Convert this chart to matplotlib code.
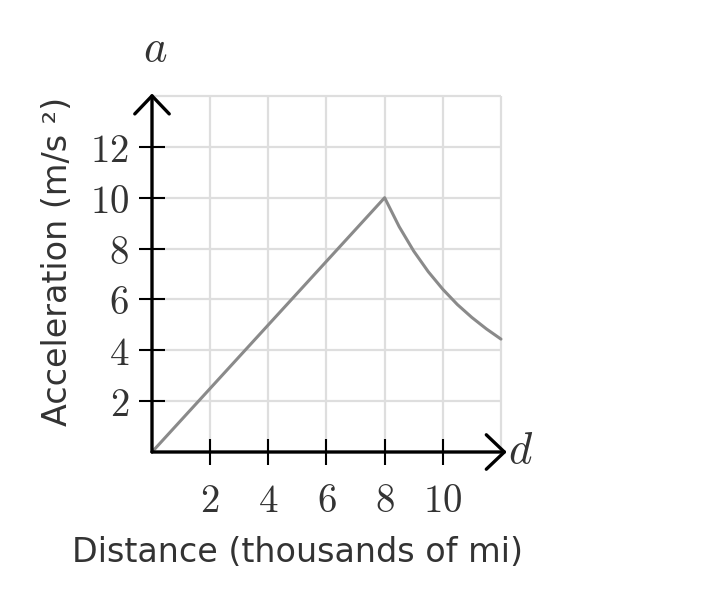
"""Acceleration vs distance sketch: linear ramp then decay, drawn on arrowed axes."""

import matplotlib

matplotlib.use("Agg")
import matplotlib.pyplot as plt

# values
distance = [0, 8, 8.5, 9, 9.5, 10, 10.5, 11, 11.5, 12]
accel = [0, 10, 8.86, 7.9, 7.09, 6.4, 5.8, 5.29, 4.84, 4.44]

x_ticks = [2, 4, 6, 8, 10]
y_ticks = [2, 4, 6, 8, 10, 12]
grid_x = [2, 4, 6, 8, 10, 12]
grid_y = [2, 4, 6, 8, 10, 12, 14]

X_MAX = 12.2
Y_MAX = 14.1

plt.rcParams["mathtext.fontset"] = "cm"

W, H = 714, 605
fig = plt.figure(figsize=(W / 100, H / 100), dpi=100)
ax = fig.add_axes([152 / W, (H - 452) / H, 12.2 * 29.08 / W, 14.1 * 25.43 / H])
ax.set_xlim(0, X_MAX)
ax.set_ylim(0, Y_MAX)

for s in ax.spines.values():
    s.set_visible(False)

# light grid, stops at the last grid line on each side
ax.vlines(grid_x, 0, max(grid_y), color="#dedede", lw=1.6, zorder=1)
ax.hlines(grid_y, 0, max(grid_x), color="#dedede", lw=1.6, zorder=1)

ax.set_xticks(x_ticks)
ax.set_xticklabels([f"${v}$" for v in x_ticks])
ax.set_yticks(y_ticks)
ax.set_yticklabels([f"${v}$" for v in y_ticks])
ax.tick_params(
    which="major", direction="inout", length=19, width=1.5, color="black",
    labelsize=28, labelcolor="#333333",
)
ax.tick_params(axis="x", pad=12)
ax.tick_params(axis="y", pad=7)

ax.plot(distance, accel, color="#8a8a8a", lw=2.2, solid_capstyle="round", zorder=3)

arrow = dict(arrowstyle="->,head_length=0.65,head_width=0.62", lw=2.4, color="black",
             mutation_scale=20, shrinkA=0, shrinkB=0)
ax.annotate("", xy=(0, Y_MAX), xytext=(0, 0), arrowprops=arrow, annotation_clip=False)
ax.annotate("", xy=(X_MAX, 0), xytext=(0, 0), arrowprops=arrow, annotation_clip=False)

fig.text(155 / W, 1 - 61 / H, "$a$", fontsize=32, color="#333333", ha="center", va="baseline")
fig.text(521 / W, 1 - 463 / H, "$d$", fontsize=32, color="#333333", ha="center", va="baseline")

fig.text(298 / W, 1 - 553 / H, "Distance (thousands of mi)", fontsize=24,
         color="#333333", ha="center", va="center")
fig.text(58 / W, 1 - 261 / H, "Acceleration (m/s ²)", fontsize=24, rotation=90,
         color="#333333", ha="center", va="center")

fig.savefig("out.png", dpi=100, facecolor="white")
